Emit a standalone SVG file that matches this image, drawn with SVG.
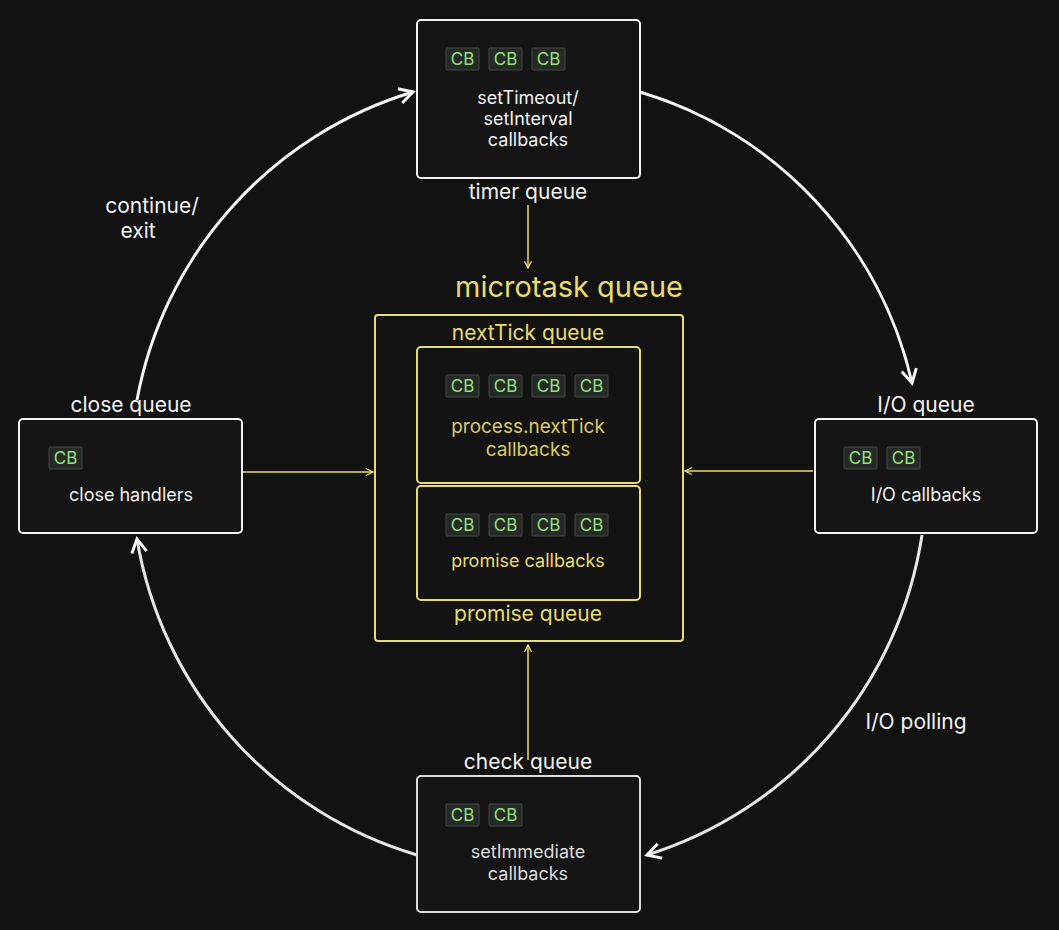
<svg xmlns="http://www.w3.org/2000/svg" width="1059" height="930" viewBox="0 0 1059 930">
<defs>
<style>
.box{fill:#151515;stroke:#f2f2f2;stroke-width:2}
.ybox{fill:#131313;stroke:#eadc6c;stroke-width:2}
.chip{fill:#262a26;stroke:#454845;stroke-width:1}
.cb{font-family:Inter,"Liberation Sans",sans-serif;font-size:17px;fill:#92e07c;text-anchor:middle}
.t{font-family:Inter,"Liberation Sans",sans-serif;font-size:18px;fill:#f2f2f2;text-anchor:middle}
.lbl{font-family:Inter,"Liberation Sans",sans-serif;font-size:21px;fill:#f2f2f2;text-anchor:middle}
.y{fill:#eadc6c}
.arc{fill:none;stroke:#f4f4f4;stroke-width:3}
.ya{fill:none;stroke:#eadc6c;stroke-width:1.5}
</style>
<marker id="wa" viewBox="0 0 12 12" refX="10" refY="6" markerWidth="6" markerHeight="6" orient="auto" markerUnits="strokeWidth"><path d="M1,1 L10,6 L1,11" fill="none" stroke="#f4f4f4" stroke-width="2"/></marker>
<marker id="ya" viewBox="0 0 12 12" refX="10" refY="6" markerWidth="7" markerHeight="7" orient="auto" markerUnits="strokeWidth"><path d="M2,2 L10,6 L2,10" fill="none" stroke="#eadc6c" stroke-width="1.5"/></marker>
<g id="chip"><rect class="chip" x="0" y="0" width="33" height="22" rx="1"/><text class="cb" x="16.5" y="17">CB</text></g>
</defs>
<rect width="1059" height="930" fill="#121212"/>
<g id="connectors">
<path class="arc" d="M640,92 A395,395 0 0 1 912,383" marker-end="url(#wa)"/>
<path class="arc" style="stroke:#e6e6e6" d="M922,535 A398,398 0 0 1 647,855" marker-end="url(#wa)"/>
<path class="arc" style="stroke:#e6e6e6" d="M417,855 A398,398 0 0 1 137,539" marker-end="url(#wa)"/>
<path class="arc" d="M137,400 A397,397 0 0 1 413,92" marker-end="url(#wa)"/>
<path class="ya" d="M528,205 L528,268" marker-end="url(#ya)"/>
<path class="ya" d="M243,472 L373,472" marker-end="url(#ya)"/>
<path class="ya" d="M813,471 L685,471" marker-end="url(#ya)"/>
<path class="ya" d="M528,760 L528,645" marker-end="url(#ya)"/>
<text class="lbl" x="152" y="213">continue/</text>
<text class="lbl" x="138" y="238">exit</text>
<text class="lbl" x="916" y="729">I/O polling</text>
</g>
<g id="timer">
<rect class="box" x="417" y="20" width="223" height="158" rx="4"/>
<use href="#chip" x="446" y="48"/><use href="#chip" x="489" y="48"/><use href="#chip" x="532" y="48"/>
<text class="t" x="528" y="104">setTimeout/</text>
<text class="t" x="528" y="125">setInterval</text>
<text class="t" x="528" y="146">callbacks</text>
<text class="lbl" x="528" y="199">timer queue</text>
</g>
<g id="microtask">
<text class="lbl y" style="font-size:29px" x="569" y="297">microtask queue</text>
<rect class="ybox" x="375" y="315" width="308" height="326" rx="3"/>
<text class="lbl y" x="528" y="340">nextTick queue</text>
<text class="lbl y" x="528" y="621">promise queue</text>
</g>
<g id="nexttick">
<rect class="ybox" x="417" y="347" width="223" height="136" rx="4"/>
<use href="#chip" x="446" y="375"/><use href="#chip" x="489" y="375"/><use href="#chip" x="532" y="375"/><use href="#chip" x="575" y="375"/>
<text class="t y" style="font-size:19px;fill:#d9cb5e" x="528" y="433">process.nextTick</text>
<text class="t y" style="font-size:19px;fill:#d9cb5e" x="528" y="456">callbacks</text>
</g>
<g id="promise">
<rect class="ybox" x="417" y="486" width="223" height="114" rx="4"/>
<use href="#chip" x="446" y="514"/><use href="#chip" x="489" y="514"/><use href="#chip" x="532" y="514"/><use href="#chip" x="575" y="514"/>
<text class="t y" x="528" y="567">promise callbacks</text>
</g>
<g id="close">
<text class="lbl" x="131" y="412">close queue</text>
<rect class="box" x="19" y="419" width="223" height="114" rx="4"/>
<use href="#chip" x="49" y="447"/>
<text class="t" x="131" y="501">close handlers</text>
</g>
<g id="io">
<text class="lbl" x="926" y="412">I/O queue</text>
<rect class="box" x="815" y="419" width="222" height="114" rx="4"/>
<use href="#chip" x="844" y="447"/><use href="#chip" x="887" y="447"/>
<text class="t" x="926" y="501">I/O callbacks</text>
</g>
<g id="check">
<text class="lbl" x="528" y="769">check queue</text>
<rect class="box" style="stroke:#dcdcdc" x="417" y="776" width="223" height="136" rx="4"/>
<use href="#chip" x="446" y="804"/><use href="#chip" x="489" y="804"/>
<text class="t" style="fill:#dcdcdc" x="528" y="858">setImmediate</text>
<text class="t" style="fill:#dcdcdc" x="528" y="880">callbacks</text>
</g>
</svg>
